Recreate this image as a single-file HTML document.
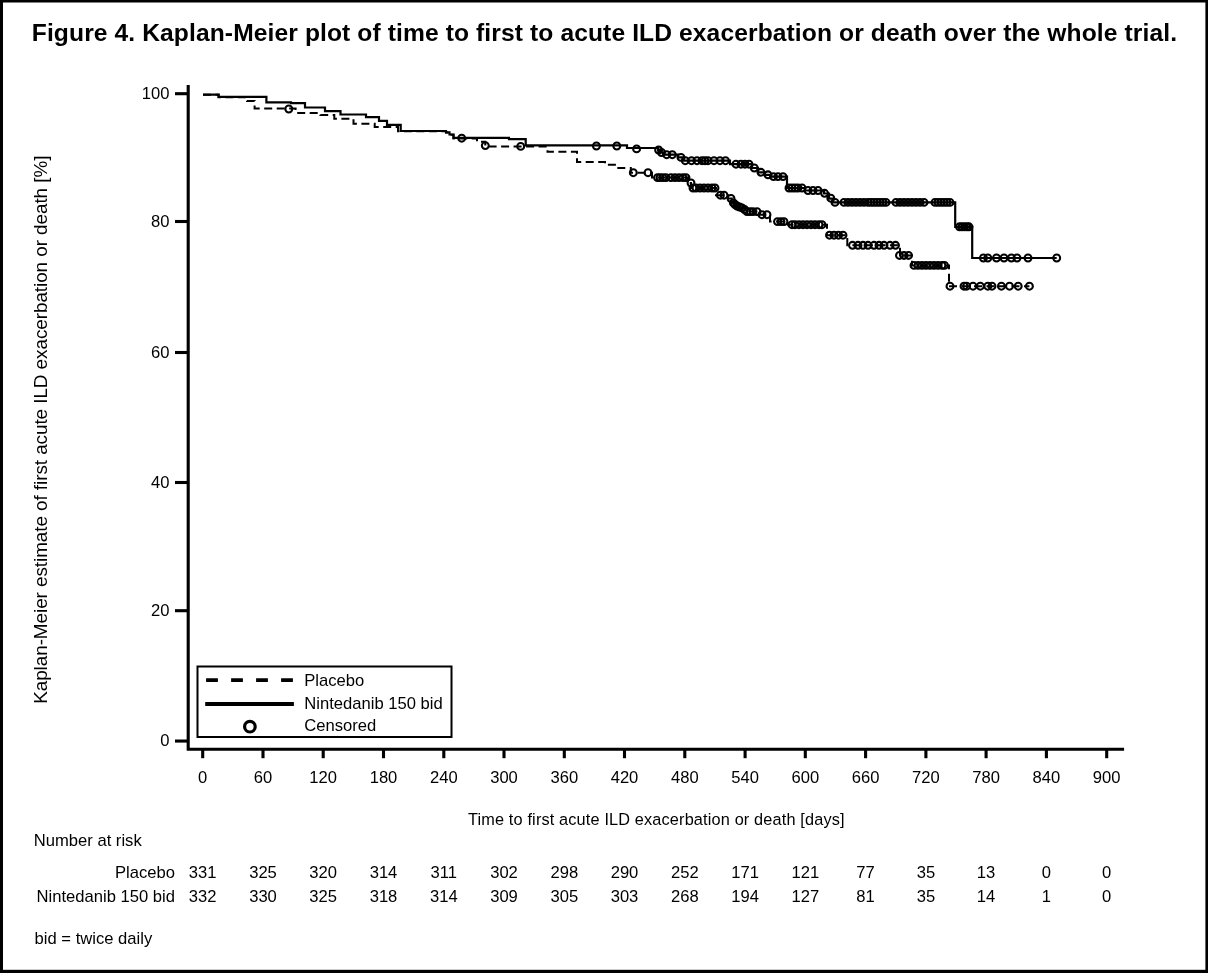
<!DOCTYPE html>
<html><head><meta charset="utf-8"><title>Figure 4</title>
<style>
html,body{margin:0;padding:0;background:#fff;}
body{width:1208px;height:973px;overflow:hidden;font-family:"Liberation Sans",sans-serif;}
svg{display:block;filter:grayscale(1);font-family:"Liberation Sans",sans-serif;}
</style></head><body>
<svg width="1208" height="973" viewBox="0 0 1208 973">
<rect x="0" y="0" width="1208" height="973" fill="#fff"/>
<rect x="0" y="0" width="3" height="973" fill="#000"/><rect x="0" y="0" width="1208" height="2.5" fill="#000"/><rect x="1205.4" y="0" width="2.6" height="973" fill="#000"/><rect x="0" y="969.8" width="1208" height="3.2" fill="#000"/>
<text x="31.8" y="40.8" font-size="24.6" font-weight="bold" textLength="1145.2" lengthAdjust="spacing" fill="#000">Figure 4. Kaplan-Meier plot of time to first to acute ILD exacerbation or death over the whole trial.</text>
<text transform="translate(47.3,703.8) rotate(-90)" font-size="18.9" textLength="548.2" lengthAdjust="spacing" fill="#000">Kaplan-Meier estimate of first acute ILD exacerbation or death [%]</text>
<g stroke="#000" stroke-width="3.1" fill="none" stroke-linecap="butt">
<path d="M188.2,84.9 V749.3 H1124.1" stroke-linejoin="miter"/>
<path d="M175,93.7 H188"/>
<path d="M175,221.5 H188"/>
<path d="M175,352.5 H188"/>
<path d="M175,482.5 H188"/>
<path d="M175,610.7 H188"/>
<path d="M175,741.05 H188"/>
<path d="M202.7,749 V758.2"/>
<path d="M263.0,749 V758.2"/>
<path d="M323.2,749 V758.2"/>
<path d="M383.5,749 V758.2"/>
<path d="M443.8,749 V758.2"/>
<path d="M504.0,749 V758.2"/>
<path d="M564.3,749 V758.2"/>
<path d="M624.5,749 V758.2"/>
<path d="M684.8,749 V758.2"/>
<path d="M745.1,749 V758.2"/>
<path d="M805.3,749 V758.2"/>
<path d="M865.6,749 V758.2"/>
<path d="M925.9,749 V758.2"/>
<path d="M986.1,749 V758.2"/>
<path d="M1046.4,749 V758.2"/>
<path d="M1106.7,749 V758.2"/>
</g>
<g font-size="16.6" fill="#000">
<text x="169.5" y="98.8" text-anchor="end">100</text>
<text x="169.5" y="226.6" text-anchor="end">80</text>
<text x="169.5" y="357.6" text-anchor="end">60</text>
<text x="169.5" y="487.6" text-anchor="end">40</text>
<text x="169.5" y="615.8" text-anchor="end">20</text>
<text x="169.5" y="746.1" text-anchor="end">0</text>
<text x="202.7" y="783" text-anchor="middle">0</text>
<text x="263.0" y="783" text-anchor="middle">60</text>
<text x="323.2" y="783" text-anchor="middle">120</text>
<text x="383.5" y="783" text-anchor="middle">180</text>
<text x="443.8" y="783" text-anchor="middle">240</text>
<text x="504.0" y="783" text-anchor="middle">300</text>
<text x="564.3" y="783" text-anchor="middle">360</text>
<text x="624.5" y="783" text-anchor="middle">420</text>
<text x="684.8" y="783" text-anchor="middle">480</text>
<text x="745.1" y="783" text-anchor="middle">540</text>
<text x="805.3" y="783" text-anchor="middle">600</text>
<text x="865.6" y="783" text-anchor="middle">660</text>
<text x="925.9" y="783" text-anchor="middle">720</text>
<text x="986.1" y="783" text-anchor="middle">780</text>
<text x="1046.4" y="783" text-anchor="middle">840</text>
<text x="1106.7" y="783" text-anchor="middle">900</text>
</g>
<text x="468" y="824.8" font-size="16.3" textLength="376.5" lengthAdjust="spacing">Time to first acute ILD exacerbation or death [days]</text>
<rect x="197.5" y="666.5" width="254" height="70.5" fill="#fff" stroke="#000" stroke-width="2"/>
<path d="M206.1,680.1 H294" stroke="#000" stroke-width="3.9" stroke-dasharray="11.8 13.2" fill="none"/>
<path d="M205.2,704 H293.9" stroke="#000" stroke-width="3.9" fill="none"/>
<circle cx="249.9" cy="726.7" r="5.3" stroke="#000" stroke-width="3.2" fill="none"/>
<g font-size="16.6" fill="#000">
<text x="304.3" y="685.7">Placebo</text>
<text x="304.3" y="708.7">Nintedanib 150 bid</text>
<text x="304.3" y="731.2">Censored</text>
</g>
<g font-size="16.6" fill="#000">
<text x="33.8" y="845.8">Number at risk</text>
<text x="175" y="878" text-anchor="end">Placebo</text>
<text x="175" y="902" text-anchor="end">Nintedanib 150 bid</text>
<text x="34.6" y="943.5">bid = twice daily</text>
<text x="202.7" y="878" text-anchor="middle">331</text>
<text x="202.7" y="902" text-anchor="middle">332</text>
<text x="263.0" y="878" text-anchor="middle">325</text>
<text x="263.0" y="902" text-anchor="middle">330</text>
<text x="323.2" y="878" text-anchor="middle">320</text>
<text x="323.2" y="902" text-anchor="middle">325</text>
<text x="383.5" y="878" text-anchor="middle">314</text>
<text x="383.5" y="902" text-anchor="middle">318</text>
<text x="443.8" y="878" text-anchor="middle">311</text>
<text x="443.8" y="902" text-anchor="middle">314</text>
<text x="504.0" y="878" text-anchor="middle">302</text>
<text x="504.0" y="902" text-anchor="middle">309</text>
<text x="564.3" y="878" text-anchor="middle">298</text>
<text x="564.3" y="902" text-anchor="middle">305</text>
<text x="624.5" y="878" text-anchor="middle">290</text>
<text x="624.5" y="902" text-anchor="middle">303</text>
<text x="684.8" y="878" text-anchor="middle">252</text>
<text x="684.8" y="902" text-anchor="middle">268</text>
<text x="745.1" y="878" text-anchor="middle">171</text>
<text x="745.1" y="902" text-anchor="middle">194</text>
<text x="805.3" y="878" text-anchor="middle">121</text>
<text x="805.3" y="902" text-anchor="middle">127</text>
<text x="865.6" y="878" text-anchor="middle">77</text>
<text x="865.6" y="902" text-anchor="middle">81</text>
<text x="925.9" y="878" text-anchor="middle">35</text>
<text x="925.9" y="902" text-anchor="middle">35</text>
<text x="986.1" y="878" text-anchor="middle">13</text>
<text x="986.1" y="902" text-anchor="middle">14</text>
<text x="1046.4" y="878" text-anchor="middle">0</text>
<text x="1046.4" y="902" text-anchor="middle">1</text>
<text x="1106.7" y="878" text-anchor="middle">0</text>
<text x="1106.7" y="902" text-anchor="middle">0</text>
</g>
<path d="M203,94.7 H218.6 V97.3 H247 V100.9 H254.6 V108.5 H295.6 V113 H320.4 V115 H334.3 V118.8 H353.5 V123.8 H374.7 V127 H398 V131.3 H446 V132.6 H449.5 V134.8 H453.5 V138.5 H477 V141.7 H485.3 V146.6 H547.5 V151.8 H577 V162 H605 V164.8 H616 V167.9 H630.8 V172.7 H652 V177.6 H688 V183 H691 V188 H716 V195.2 H728 V198.5 H732 V202.9 H735 V206 H740 V207.9 H745 V211.6 H760 V214.7 H770 V221.6 H788 V224.7 H827 V235.2 H847.3 V245.3 H900 V255.4 H912 V265.4 H949 V286.2 H1029.4" stroke="#000" stroke-width="2" stroke-dasharray="8 4.5" fill="none"/>
<path d="M203,94.7 H218.6 V96.8 H266.4 V102.4 H291 V103.2 H305 V107.5 H325 V111.1 H340.5 V114.5 H366 V117.1 H379 V120.8 H387 V124.8 H400.7 V131 H446 V132.3 H449.5 V134.5 H453.5 V137.9 H509 V139.2 H525.7 V145.4 H627 V148 H658 V150 H660 V152.5 H663 V154.7 H678 V157.4 H683 V160.7 H730 V164.2 H752 V168 H758 V172.3 H765 V174.8 H771 V176.6 H787 V188 H805 V190.5 H824 V193.5 H829 V198.6 H833 V202.4 H955.2 V226.8 H972.2 V258 H1056.7" stroke="#000" stroke-width="2.2" fill="none"/>
<g stroke="#000" stroke-width="2.05" fill="none">
<circle cx="461.7" cy="138.2" r="3.45"/>
<circle cx="596.4" cy="146" r="3.45"/>
<circle cx="616.8" cy="146" r="3.45"/>
<circle cx="636.6" cy="148.9" r="3.45"/>
<circle cx="658.6" cy="150" r="3.45"/>
<circle cx="661.5" cy="152.5" r="3.45"/>
<circle cx="666.7" cy="154.7" r="3.45"/>
<circle cx="672.3" cy="154.7" r="3.45"/>
<circle cx="681" cy="157.4" r="3.45"/>
<circle cx="685.3" cy="160.7" r="3.45"/>
<circle cx="691.5" cy="160.7" r="3.45"/>
<circle cx="697" cy="160.7" r="3.45"/>
<circle cx="702" cy="160.7" r="3.45"/>
<circle cx="705" cy="160.7" r="3.45"/>
<circle cx="708" cy="160.7" r="3.45"/>
<circle cx="714" cy="160.7" r="3.45"/>
<circle cx="720" cy="160.7" r="3.45"/>
<circle cx="725.5" cy="160.7" r="3.45"/>
<circle cx="736" cy="164.2" r="3.45"/>
<circle cx="741" cy="164.2" r="3.45"/>
<circle cx="745" cy="164.2" r="3.45"/>
<circle cx="749" cy="164.2" r="3.45"/>
<circle cx="754.3" cy="168" r="3.45"/>
<circle cx="761" cy="172.3" r="3.45"/>
<circle cx="768" cy="174.8" r="3.45"/>
<circle cx="773.5" cy="176.6" r="3.45"/>
<circle cx="778" cy="176.6" r="3.45"/>
<circle cx="783" cy="176.6" r="3.45"/>
<circle cx="789" cy="188" r="3.45"/>
<circle cx="792" cy="188" r="3.45"/>
<circle cx="795" cy="188" r="3.45"/>
<circle cx="798" cy="188" r="3.45"/>
<circle cx="802" cy="188" r="3.45"/>
<circle cx="808" cy="190.5" r="3.45"/>
<circle cx="813" cy="190.5" r="3.45"/>
<circle cx="818" cy="190.5" r="3.45"/>
<circle cx="824.6" cy="193.3" r="3.45"/>
<circle cx="830.8" cy="198.2" r="3.45"/>
<circle cx="835" cy="202.4" r="3.45"/>
<circle cx="844" cy="202.4" r="3.45"/>
<circle cx="848" cy="202.4" r="3.45"/>
<circle cx="852" cy="202.4" r="3.45"/>
<circle cx="856" cy="202.4" r="3.45"/>
<circle cx="860" cy="202.4" r="3.45"/>
<circle cx="864" cy="202.4" r="3.45"/>
<circle cx="868" cy="202.4" r="3.45"/>
<circle cx="871" cy="202.4" r="3.45"/>
<circle cx="874" cy="202.4" r="3.45"/>
<circle cx="877" cy="202.4" r="3.45"/>
<circle cx="880" cy="202.4" r="3.45"/>
<circle cx="883" cy="202.4" r="3.45"/>
<circle cx="886" cy="202.4" r="3.45"/>
<circle cx="896" cy="202.4" r="3.45"/>
<circle cx="900" cy="202.4" r="3.45"/>
<circle cx="904" cy="202.4" r="3.45"/>
<circle cx="908" cy="202.4" r="3.45"/>
<circle cx="912" cy="202.4" r="3.45"/>
<circle cx="916" cy="202.4" r="3.45"/>
<circle cx="920" cy="202.4" r="3.45"/>
<circle cx="924" cy="202.4" r="3.45"/>
<circle cx="935" cy="202.4" r="3.45"/>
<circle cx="938" cy="202.4" r="3.45"/>
<circle cx="941" cy="202.4" r="3.45"/>
<circle cx="944" cy="202.4" r="3.45"/>
<circle cx="947" cy="202.4" r="3.45"/>
<circle cx="950" cy="202.4" r="3.45"/>
<circle cx="959.5" cy="226.8" r="3.45"/>
<circle cx="962" cy="226.8" r="3.45"/>
<circle cx="964.5" cy="226.8" r="3.45"/>
<circle cx="967" cy="226.8" r="3.45"/>
<circle cx="969" cy="226.8" r="3.45"/>
<circle cx="983.4" cy="258" r="3.45"/>
<circle cx="987.8" cy="258" r="3.45"/>
<circle cx="996.5" cy="258" r="3.45"/>
<circle cx="1004" cy="258" r="3.45"/>
<circle cx="1011.4" cy="258" r="3.45"/>
<circle cx="1017" cy="258" r="3.45"/>
<circle cx="1028" cy="258" r="3.45"/>
<circle cx="1056.7" cy="258" r="3.45"/>
<circle cx="288.8" cy="109" r="3.45"/>
<circle cx="485.3" cy="145.6" r="3.45"/>
<circle cx="520.7" cy="146.4" r="3.45"/>
<circle cx="633.3" cy="172.7" r="3.45"/>
<circle cx="648" cy="172.7" r="3.45"/>
<circle cx="657.5" cy="177.6" r="3.45"/>
<circle cx="660" cy="177.6" r="3.45"/>
<circle cx="663" cy="177.6" r="3.45"/>
<circle cx="666" cy="177.6" r="3.45"/>
<circle cx="671" cy="177.6" r="3.45"/>
<circle cx="675" cy="177.6" r="3.45"/>
<circle cx="679" cy="177.6" r="3.45"/>
<circle cx="683" cy="177.6" r="3.45"/>
<circle cx="686" cy="177.6" r="3.45"/>
<circle cx="691" cy="183" r="3.45"/>
<circle cx="693" cy="188" r="3.45"/>
<circle cx="696" cy="188" r="3.45"/>
<circle cx="700" cy="188" r="3.45"/>
<circle cx="704" cy="188" r="3.45"/>
<circle cx="708" cy="188" r="3.45"/>
<circle cx="712" cy="188" r="3.45"/>
<circle cx="715" cy="188" r="3.45"/>
<circle cx="720.4" cy="195.2" r="3.45"/>
<circle cx="724" cy="195.2" r="3.45"/>
<circle cx="731" cy="198.5" r="3.45"/>
<circle cx="733.4" cy="202.9" r="3.45"/>
<circle cx="735" cy="204.5" r="3.45"/>
<circle cx="737" cy="206" r="3.45"/>
<circle cx="739.5" cy="207" r="3.45"/>
<circle cx="742" cy="207.9" r="3.45"/>
<circle cx="744.5" cy="209.5" r="3.45"/>
<circle cx="747" cy="211.6" r="3.45"/>
<circle cx="750" cy="211.6" r="3.45"/>
<circle cx="753" cy="211.6" r="3.45"/>
<circle cx="757" cy="211.6" r="3.45"/>
<circle cx="762" cy="214.7" r="3.45"/>
<circle cx="767" cy="214.7" r="3.45"/>
<circle cx="777.5" cy="221.6" r="3.45"/>
<circle cx="781" cy="221.6" r="3.45"/>
<circle cx="784" cy="221.6" r="3.45"/>
<circle cx="792" cy="224.7" r="3.45"/>
<circle cx="795" cy="224.7" r="3.45"/>
<circle cx="799" cy="224.7" r="3.45"/>
<circle cx="803" cy="224.7" r="3.45"/>
<circle cx="807" cy="224.7" r="3.45"/>
<circle cx="811" cy="224.7" r="3.45"/>
<circle cx="815" cy="224.7" r="3.45"/>
<circle cx="819" cy="224.7" r="3.45"/>
<circle cx="822" cy="224.7" r="3.45"/>
<circle cx="829.5" cy="235.2" r="3.45"/>
<circle cx="834" cy="235.2" r="3.45"/>
<circle cx="838.5" cy="235.2" r="3.45"/>
<circle cx="843" cy="235.2" r="3.45"/>
<circle cx="852.5" cy="245.3" r="3.45"/>
<circle cx="858" cy="245.3" r="3.45"/>
<circle cx="863" cy="245.3" r="3.45"/>
<circle cx="868" cy="245.3" r="3.45"/>
<circle cx="874" cy="245.3" r="3.45"/>
<circle cx="879" cy="245.3" r="3.45"/>
<circle cx="884" cy="245.3" r="3.45"/>
<circle cx="890" cy="245.3" r="3.45"/>
<circle cx="895.5" cy="245.3" r="3.45"/>
<circle cx="899.5" cy="255.4" r="3.45"/>
<circle cx="904" cy="255.4" r="3.45"/>
<circle cx="908.5" cy="255.4" r="3.45"/>
<circle cx="914" cy="265.4" r="3.45"/>
<circle cx="918" cy="265.4" r="3.45"/>
<circle cx="922" cy="265.4" r="3.45"/>
<circle cx="926" cy="265.4" r="3.45"/>
<circle cx="930" cy="265.4" r="3.45"/>
<circle cx="934" cy="265.4" r="3.45"/>
<circle cx="938" cy="265.4" r="3.45"/>
<circle cx="942" cy="265.4" r="3.45"/>
<circle cx="944.5" cy="265.4" r="3.45"/>
<circle cx="950" cy="286.2" r="3.45"/>
<circle cx="964" cy="286.2" r="3.45"/>
<circle cx="966.6" cy="286.2" r="3.45"/>
<circle cx="973" cy="286.2" r="3.45"/>
<circle cx="980.3" cy="286.2" r="3.45"/>
<circle cx="987.8" cy="286.2" r="3.45"/>
<circle cx="992" cy="286.2" r="3.45"/>
<circle cx="1001.4" cy="286.2" r="3.45"/>
<circle cx="1009.5" cy="286.2" r="3.45"/>
<circle cx="1018.2" cy="286.2" r="3.45"/>
<circle cx="1029.4" cy="286.2" r="3.45"/>
</g>
</svg></body></html>
